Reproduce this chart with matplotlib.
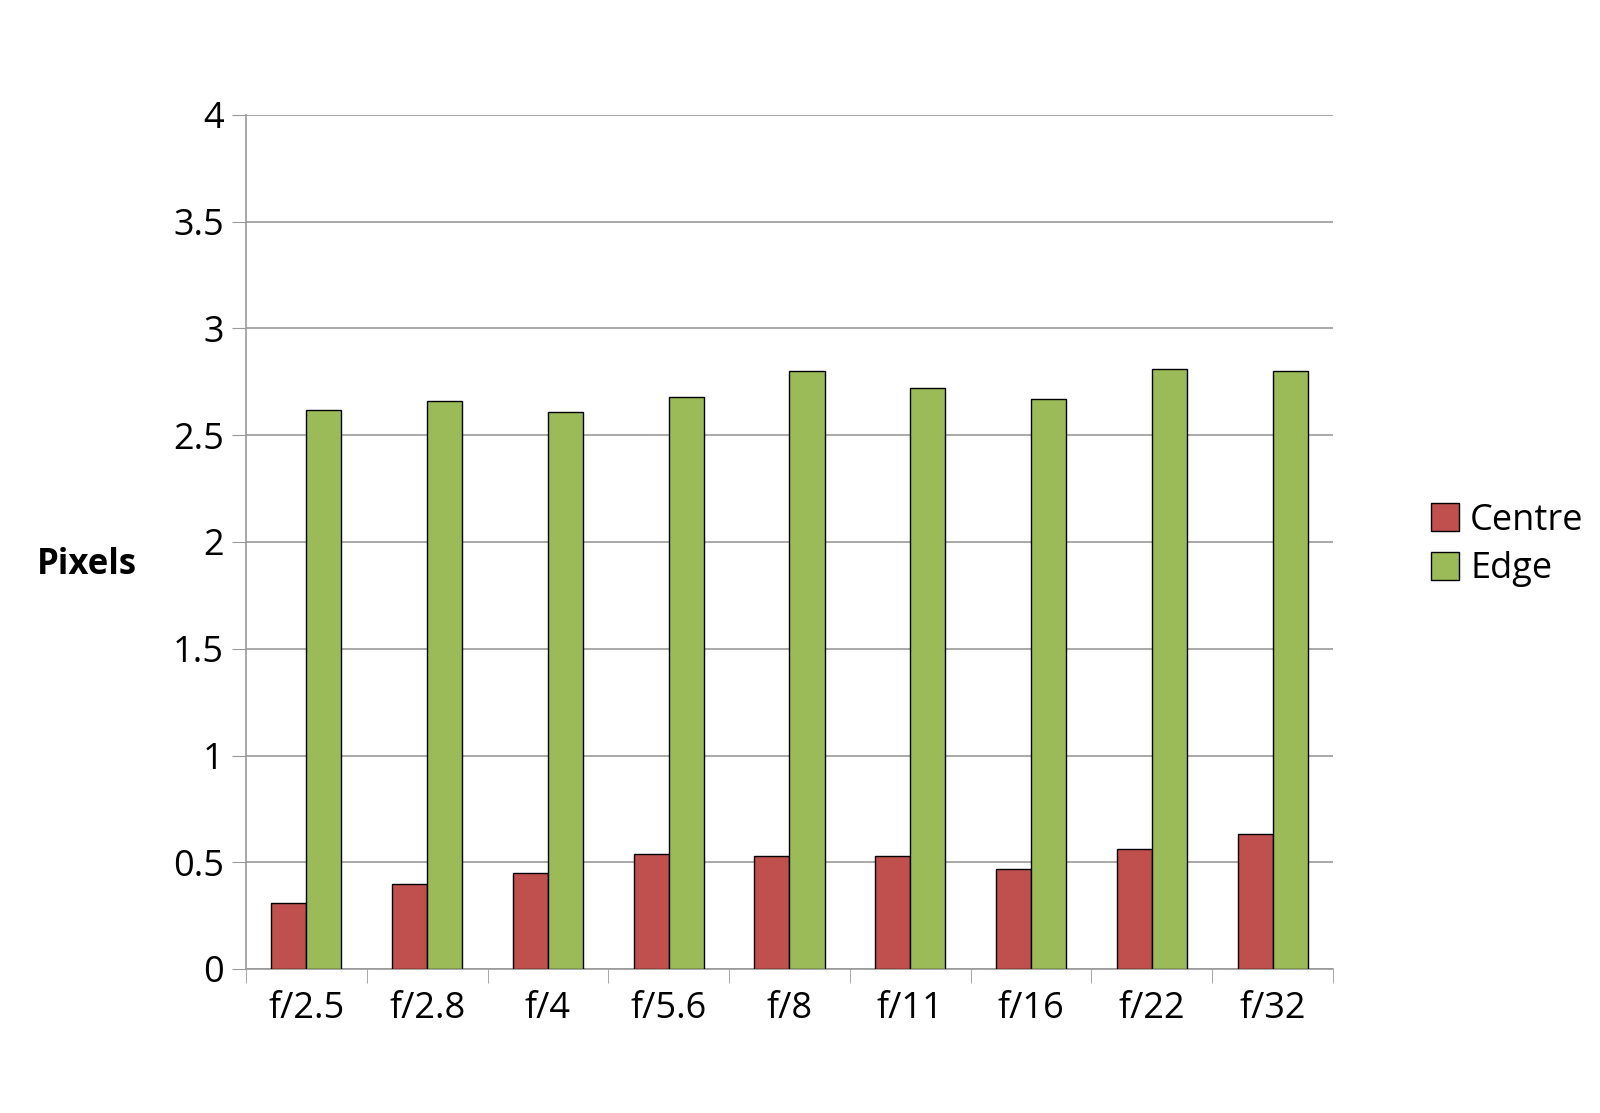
import matplotlib
matplotlib.use("Agg")
import matplotlib.pyplot as plt
import numpy as np

plt.rcParams['font.family'] = ['Open Sans', 'DejaVu Sans']

categories = ["f/2.5", "f/2.8", "f/4", "f/5.6", "f/8", "f/11", "f/16", "f/22", "f/32"]
centre = [0.31, 0.40, 0.45, 0.54, 0.53, 0.53, 0.47, 0.56, 0.63]
edge = [2.62, 2.66, 2.61, 2.68, 2.80, 2.72, 2.67, 2.81, 2.80]

fig = plt.figure(figsize=(16, 11.13), dpi=100)
ax = fig.add_axes([246/1600, 1-969/1113, (1333-246)/1600, (969-115)/1113])

x = np.arange(len(categories))
w = 0.29
ax.bar(x - w/2, centre, w, color='#C0504D', edgecolor='black', linewidth=1, label='Centre', zorder=3)
ax.bar(x + w/2, edge, w, color='#9BBB59', edgecolor='black', linewidth=1, label='Edge', zorder=3)

ax.set_xlim(-0.5, len(categories) - 0.5)
ax.set_ylim(0, 4)
ax.set_yticks(np.arange(0, 4.01, 0.5))
ax.set_yticklabels(['0', '0.5', '1', '1.5', '2', '2.5', '3', '3.5', '4'])
ax.yaxis.grid(True, color='#999999', linewidth=1.2, zorder=0)
ax.set_xticks(x)
ax.set_xticklabels(categories)
ax.set_xticks(np.arange(-0.5, len(categories)), minor=True)
ax.tick_params(axis='x', which='major', length=0, pad=16, labelsize=26)
ax.tick_params(axis='x', which='minor', length=10, color='#999999')
ax.tick_params(axis='y', length=10, color='#999999', labelsize=26, pad=6)
for s in ['top', 'right']:
    ax.spines[s].set_visible(False)
for s in ['left', 'bottom']:
    ax.spines[s].set_color('#999999')
    ax.spines[s].set_linewidth(1.2)

fig.text(37/1600, 1-565/1113, 'Pixels', fontsize=25, fontweight='bold', va='center', ha='left')
fig.legend(loc='center left', bbox_to_anchor=(1398/1600, 1-545/1113), frameon=False,
           fontsize=26, handlelength=0.8, handleheight=0.8, handletextpad=0.3, labelspacing=0.35)

fig.savefig('out.png', dpi=100)
